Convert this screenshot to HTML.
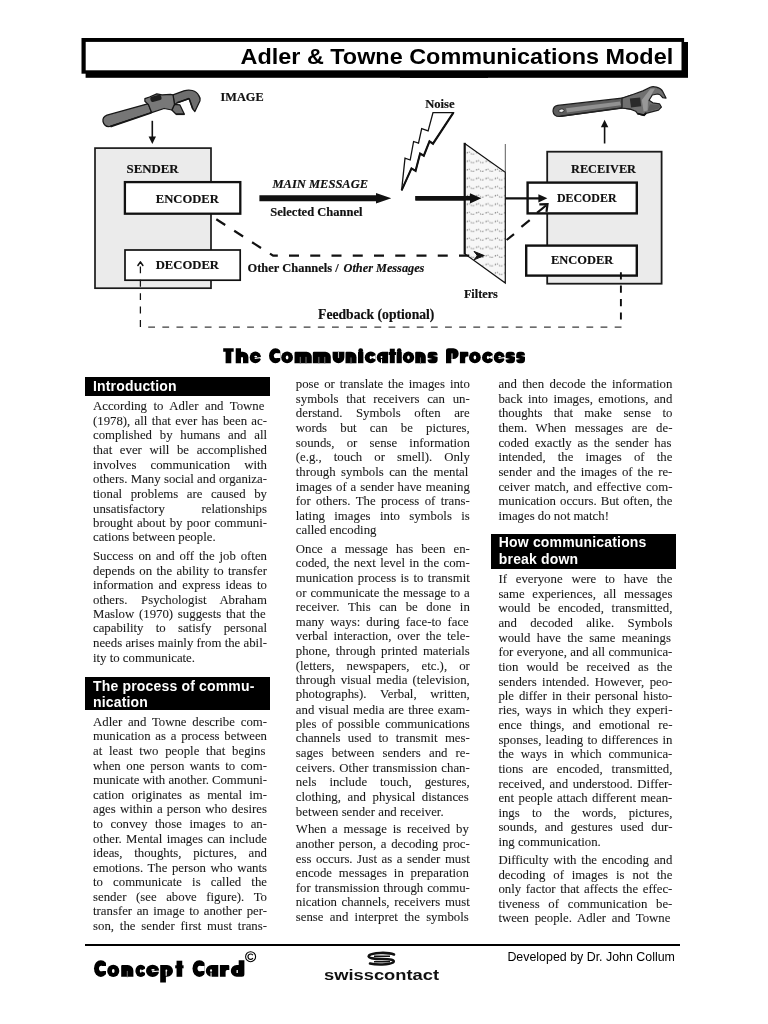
<!DOCTYPE html>
<html><head><meta charset="utf-8">
<style>
html,body{margin:0;padding:0;background:#fff;}
body{width:768px;height:1024px;position:relative;overflow:hidden;will-change:transform;font-family:"Liberation Serif",serif;color:#1a1a1a;}
.abs{position:absolute;}
#titlebox{left:81.6px;top:38px;width:595.7px;height:28.2px;border-style:solid;border-color:#000;border-width:4px 2.8px 3.8px 4.2px;background:#fff;box-shadow:4px 4px 0 0 #000;}
#title{left:200px;top:44px;width:473.2px;text-align:right;font:bold 22px/25px "Liberation Sans",sans-serif;color:#000;white-space:nowrap;transform-origin:100% 0;transform:scaleX(1.064);}
svg text{font-family:"Liberation Serif",serif;font-weight:bold;fill:#111;stroke:#111;stroke-width:0.18px;}
.bar{background:#000;color:#fff;letter-spacing:0.17px;font:bold 14px/16px "Liberation Sans",sans-serif;white-space:nowrap;}
.bar span{position:absolute;left:8px;}
.ln{position:absolute;height:15px;font:12.8px/15px "Liberation Serif",serif;color:#1a1a1a;-webkit-text-stroke:0.08px #1a1a1a;white-space:nowrap;text-align:justify;text-align-last:justify;}
.ln.l{text-align:left;text-align-last:left;}
#rule{left:85px;top:944px;width:595.4px;height:2px;background:#000;}
#dev{left:507.4px;top:950px;font:12.42px/15px "Liberation Sans",sans-serif;color:#000;white-space:nowrap;}
</style></head><body>
<svg class="abs" style="left:0;top:30px" width="768" height="52" viewBox="0 30 768 52"><rect x="85.6" y="42" width="402.4" height="35.8" fill="#000"/><rect x="400" y="42" width="288" height="35.8" fill="#000"/><rect x="81.5" y="38" width="602.6" height="35.7" fill="#000"/><rect x="85.7" y="41.9" width="595.8" height="28.4" fill="#fff"/></svg>
<div id="title" class="abs">Adler &amp; Towne Communications Model</div>
<svg class="abs" style="left:0;top:0" width="768" height="340" viewBox="0 0 768 340">
<defs>
<pattern id="wav" x="466" y="150" width="9.4" height="8.6" patternUnits="userSpaceOnUse">
<path d="M0.8 3.2 q1.9 -2.6 3.8 0 q1.9 2.2 3.8 0" fill="none" stroke="#7a7a7a" stroke-width="0.95" stroke-dasharray="1.3 1.1"/>
</pattern>
</defs>
<!-- sender / receiver boxes -->
<rect x="95" y="148.1" width="116" height="140.1" fill="#ebebeb" stroke="#1a1a1a" stroke-width="1.7"/>
<rect x="124.9" y="182.1" width="115.4" height="31.6" fill="#fff" stroke="#111" stroke-width="2.3"/>
<rect x="125" y="250" width="115.2" height="30.2" fill="#fff" stroke="#111" stroke-width="1.7"/>
<rect x="547.2" y="151.7" width="114.4" height="132" fill="#ebebeb" stroke="#1a1a1a" stroke-width="1.8"/>
<rect x="527.6" y="182.6" width="109.2" height="30.8" fill="#fff" stroke="#111" stroke-width="2.4"/>
<rect x="526.2" y="245.6" width="110.6" height="30" fill="#fff" stroke="#111" stroke-width="2.4"/>
<!-- labels -->
<text x="126.6" y="173" font-size="13.3" lengthAdjust="spacingAndGlyphs" textLength="52">SENDER</text>
<text x="155.8" y="202.5" font-size="13.3" lengthAdjust="spacingAndGlyphs" textLength="63.1">ENCODER</text>
<text x="155.7" y="268.6" font-size="13.3" lengthAdjust="spacingAndGlyphs" textLength="63.3">DECODER</text>
<text x="220.6" y="100.8" font-size="13.3" lengthAdjust="spacingAndGlyphs" textLength="43">IMAGE</text>
<text x="425.2" y="107.5" font-size="13.3" lengthAdjust="spacingAndGlyphs" textLength="29.4">Noise</text>
<text x="272.5" y="188" font-size="13.3" font-style="italic" lengthAdjust="spacingAndGlyphs" textLength="95.6">MAIN MESSAGE</text>
<text x="270.3" y="215.6" font-size="13.3" lengthAdjust="spacingAndGlyphs" textLength="92.2">Selected Channel</text>
<text x="247.5" y="271.9" font-size="13.3" lengthAdjust="spacingAndGlyphs" textLength="91.2">Other Channels /</text>
<text x="343.6" y="271.9" font-size="13.3" font-style="italic" lengthAdjust="spacingAndGlyphs" textLength="80.8">Other Messages</text>
<text x="463.9" y="298" font-size="13.3" lengthAdjust="spacingAndGlyphs" textLength="34">Filters</text>
<text x="318.1" y="319" font-size="14" lengthAdjust="spacingAndGlyphs" textLength="116.3">Feedback (optional)</text>
<text x="571" y="172.9" font-size="13.3" lengthAdjust="spacingAndGlyphs" textLength="65">RECEIVER</text>
<text x="557" y="202" font-size="13.3" lengthAdjust="spacingAndGlyphs" textLength="59.5">DECODER</text>
<text x="550.9" y="264.3" font-size="13.3" lengthAdjust="spacingAndGlyphs" textLength="62.3">ENCODER</text>
<!-- wrench arrows -->
<path d="M152.3 120.8V138" stroke="#111" stroke-width="1.6" fill="none"/>
<path d="M148.6 136.5h7.4l-3.7 7.5z" fill="#111"/>
<path d="M604.6 143.5V126" stroke="#111" stroke-width="1.6" fill="none"/>
<path d="M600.9 127.3h7.4l-3.7 -7.5z" fill="#111"/>
<!-- main arrows -->
<path d="M259.4 195.2H376V193L391.3 198.2L376 203.4V201.2H259.4z" fill="#111"/>
<path d="M415.4 196H470V193.2L481.3 198.3L470 203.4V200.6H415.4z" fill="#111"/>
<!-- filter -->
<path d="M464.7 143.6L505.3 172.2V283.1L464.7 253.8z" fill="#f7f7f7"/>
<path d="M464.7 143.6L505.3 172.2V283.1L464.7 253.8z" fill="url(#wav)"/>
<path d="M464.7 143.6L505.3 172.2V283.1L464.7 253.8" fill="none" stroke="#111" stroke-width="1.2"/>
<path d="M464.7 142.8V254.4" stroke="#111" stroke-width="2.2" fill="none"/>
<path d="M505.3 144V172.2" stroke="#333" stroke-width="0.8" fill="none"/>
<path d="M415.4 196H470V193.2L481.3 198.3L470 203.4V200.6H415.4z" fill="#111"/>
<!-- thin arrow to decoder -->
<path d="M505.3 198.3H540" stroke="#111" stroke-width="2.2" fill="none"/>
<path d="M538.4 194.2L547.4 198.3L538.4 202.4z" fill="#111"/>
<!-- lightning -->
<path d="M433 112.6L453.4 112.6L433 143.7L429.5 141.3L423.8 155.7L420.1 153.6L415.6 170.8L411.5 168.4L401.6 190.4L405 158.2L410.2 160L413.6 141.5L418.5 143.2L421.7 128.7L428.1 130.8z" fill="#fff" stroke="#111" stroke-width="1.3" stroke-linejoin="miter"/>
<path d="M453.4 112.6L433 143.7L429.5 141.3L423.8 155.7L420.1 153.6L415.6 170.8L411.5 168.4L401.6 190.4" stroke="#111" stroke-width="2.1" fill="none" stroke-linejoin="miter"/>
<!-- thick dashed other-channel line -->
<path d="M216.3 219.3L273.1 255.7H277.8" stroke="#111" stroke-width="2.2" fill="none" stroke-dasharray="10.6 10.65" stroke-linejoin="miter"/>
<path d="M289 255.7H469" stroke="#111" stroke-width="2.2" fill="none" stroke-dasharray="10 11.25"/>
<path d="M474 251.4L484.3 255.6L474 259.8L477.4 255.6z" fill="#111" stroke="#111" stroke-width="1" stroke-linejoin="round"/>
<!-- dashed arrow filter->decoder -->
<path d="M506.6 240L514 234.2M521.4 226.9L529.7 220.2M537 212.8L546 205.5" stroke="#111" stroke-width="2.2" fill="none"/>
<path d="M539.3 204.4L547.5 204.1L546.5 211.8" stroke="#111" stroke-width="2.2" fill="none"/>
<!-- feedback dashed -->
<path d="M620.9 272.2V320" stroke="#0c0c0c" stroke-width="1.9" fill="none" stroke-dasharray="7.2 6.2"/>
<path d="M148.2 327H621.7" stroke="#3c3c3c" stroke-width="1.25" fill="none" stroke-dasharray="6.8 7.336"/>
<path d="M140.4 326.9V265.6" stroke="#111" stroke-width="1.25" fill="none" stroke-dasharray="6.9 6.5"/>
<path d="M137.9 265.5L140.4 261.8L142.9 265.5" stroke="#111" stroke-width="1.5" fill="none" stroke-linecap="round" stroke-linejoin="round"/>
</svg>
<svg class="abs" style="left:0;top:78px" width="768" height="60" viewBox="0 78 768 60">
<g stroke="#161616" stroke-width="1.25" stroke-linejoin="round">
<path d="M148.5 103.6L107 115.2Q102.3 117 103 121.5Q104.5 127.3 110 126.4L151.5 112.5z" fill="#767676"/>
<path d="M110.5 126.6L151.5 112.8" stroke-width="1.7" fill="none"/>
<path d="M173 94.9L183.9 90.8Q188 89.8 192.3 90.5Q197 91.5 198.7 95.5Q200.6 98 200 100.7L194.9 111.6L192.8 109L189.1 98.6L177.1 102.8L174.5 104.8z" fill="#6e6e6e"/>
<path d="M174.5 104.3L179.8 104.8L184.4 114.2L176.1 114.2L171.9 110z" fill="#707070"/>
<path d="M176.1 114.3L184.4 114.3" stroke-width="1.6"/>
<path d="M144.9 98.6L149.5 97L156.8 93.9L162 94.9L170.4 94.4L173 94.9L174.5 104.3L171.9 110L164.1 108.5L151.6 112.6L148.5 104.8L144.9 101.2z" fill="#787878"/>
<path d="M189.1 98.6L177.1 102.8" stroke-width="1.6"/>
<path d="M192.8 109L189.1 98.6" stroke-width="1.5"/>
</g>
<rect x="150.3" y="95.7" width="11.2" height="5.3" rx="1.9" fill="#1e1e1e" transform="rotate(-15 156 98.3)"/>
<!-- right wrench -->
<g stroke="#1c1c1c" stroke-width="1.2" stroke-linejoin="round">
<path d="M557.7 105.4L624 97.9L631.4 95L630.4 109.1L622 108L560.2 116.4Q553.5 116.8 553 111.2Q553 106.2 557.7 105.4z" fill="#5e5e5e"/>
<path d="M622 98.1L631.4 95L642.9 90.9L650.2 87.2Q653 86.2 656.4 87.2Q661 88.5 662.7 91.4L666 98.1L662.7 97.6Q660 94 657.5 94L652.3 95L649.1 100.2L652.8 102.8L659.5 103.9L661.4 107L658.5 110.1L646 113.3L643.9 115.3L637.7 113.8L635.6 111.2L630.4 109.1L622 108z" fill="#707070"/>
</g>
<path d="M566 108.3L620 101.6L621 105.2L567 112.5z" fill="#919191"/>
<path d="M560.5 116.2L622 107.9" stroke="#222" stroke-width="1.5" fill="none"/>
<ellipse cx="561.4" cy="110.7" rx="2.7" ry="1.7" fill="#efefef" stroke="#222" stroke-width="0.8" transform="rotate(-8 561.4 110.7)"/>
<path d="M643.6 111.5L641.8 100L650.5 88.7L655 88.5L648 100.5L647.6 110.5z" fill="#989898"/>
<path d="M629.8 98.6L640.2 97.4L641.2 106.2L631 107.4z" fill="#2a2a2a"/>
<path d="M650 104.2L659.5 105L660 107L657.5 109L647.5 111.5z" fill="#5a5a5a"/>
<path d="M637.5 113.5L644 115.2L646.2 113" stroke="#111" stroke-width="1.8" fill="none"/>
</svg>
<svg class="abs" style="left:0;top:336px" width="768" height="40" viewBox="0 336 768 40">
<path d="M223.2 348.3H233.7V351.7H231.3V363.2H225.6V351.7H223.2z" fill="#000"/>
<path d="M235.7 363.2V348.3H241V351.7H242.88A5.52 5.52 0 0 1 248.4 357.22V363.2z" fill="#000"/>
<path d="M242 357.22L242 363.7" stroke="#fff" stroke-width="2" fill="none"/>
<ellipse cx="255.35" cy="357.45" rx="5.65" ry="5.9" fill="#000"/>
<path d="M254.75 358.35L261.5 357.55" stroke="#fff" stroke-width="1.1" fill="none"/>
<ellipse cx="255.75" cy="356.45" rx="1.47" ry="0.81" fill="#fff"/>
<path d="M261.5 357.75L259.8 357.95L261.5 360.05z" fill="#fff"/>
<clipPath id="C2690"><rect x="268" y="346.3" width="12.3" height="18.9"/></clipPath>
<g clip-path="url(#C2690)"><ellipse cx="275.45" cy="355.75" rx="6.45" ry="7.6" fill="#000"/><ellipse cx="276.05" cy="355.75" rx="2.26" ry="2.53" fill="#fff"/><path d="M275.45 353.37H282.3V357.99H275.45z" fill="#fff"/></g>
<ellipse cx="287.1" cy="357.45" rx="5.9" ry="5.9" fill="#000"/>
<ellipse cx="287.1" cy="357.45" rx="1.3" ry="1.96" fill="#fff"/>
<path d="M294.5 363.2V352.9Q294.5 351.7 295.7 351.7H306.61A5.19 5.19 0 0 1 311.8 356.89V363.2z" fill="#000"/>
<path d="M300.3 356.88L300.3 363.7" stroke="#8a8a8a" stroke-width="0.9" fill="none"/>
<path d="M306 356.88L306 363.7" stroke="#8a8a8a" stroke-width="0.9" fill="none"/>
<path d="M312.8 363.2V352.9Q312.8 351.7 314 351.7H325.4A5.4 5.4 0 0 1 330.8 357.1V363.2z" fill="#000"/>
<path d="M318.83 356.88L318.83 363.7" stroke="#8a8a8a" stroke-width="0.9" fill="none"/>
<path d="M324.77 356.88L324.77 363.7" stroke="#8a8a8a" stroke-width="0.9" fill="none"/>
<path d="M332.6 351.7V357.3A5.9 5.9 0 0 0 344.4 357.3V351.7z" fill="#000"/>
<path d="M338.5 351.2L338.5 358.02" stroke="#bbb" stroke-width="1.1" fill="none"/>
<path d="M345.5 363.2V352.7Q345.5 351.7 346.5 351.7H351A5.5 5.5 0 0 1 356.5 357.2V363.2z" fill="#000"/>
<path d="M351 357.45L351 363.7" stroke="#777" stroke-width="1" fill="none"/>
<path d="M358 351.7H363.4V363.2H358z" fill="#000"/>
<ellipse cx="360.7" cy="350.57" rx="2.38" ry="2.38" fill="#000"/>
<clipPath id="c3647"><rect x="363.7" y="349.7" width="11.9" height="15.5"/></clipPath>
<g clip-path="url(#c3647)"><ellipse cx="370.75" cy="357.45" rx="6.05" ry="5.9" fill="#000"/><path d="M370.45 357.45L377.6 354.34L377.6 359.98z" fill="#fff"/><ellipse cx="370.75" cy="357.45" rx="1.09" ry="1.72" fill="#fff"/></g>
<path d="M388.1 363.2V351.7H382.45A5.75 5.75 0 0 0 382.45 363.2z" fill="#000"/>
<path d="M381.49 363.7L381.49 359.06" stroke="#fff" stroke-width="1" fill="none"/>
<ellipse cx="381.49" cy="357.05" rx="0.91" ry="1.15" fill="#fff"/>
<path d="M389.8 348.7H394.8V363.2H389.8z" fill="#000"/>
<path d="M388.6 352H396V355H388.6z" fill="#000"/>
<path d="M396.6 351.7H401.8V363.2H396.6z" fill="#000"/>
<ellipse cx="399.2" cy="350.48" rx="2.29" ry="2.29" fill="#000"/>
<ellipse cx="408.45" cy="357.45" rx="5.75" ry="5.9" fill="#000"/>
<ellipse cx="408.45" cy="357.45" rx="1.26" ry="1.96" fill="#fff"/>
<path d="M415.2 363.2V352.7Q415.2 351.7 416.2 351.7H420.5A5.3 5.3 0 0 1 425.8 357V363.2z" fill="#000"/>
<path d="M420.5 357.45L420.5 363.7" stroke="#777" stroke-width="1" fill="none"/>
<rect x="427.6" y="351.7" width="10" height="11.5" rx="3.45" fill="#000"/>
<path d="M438.1 355.15L432.8 355.84L438.1 357.1z" fill="#fff"/>
<path d="M427.1 359.75L432.4 359.06L427.1 357.8z" fill="#fff"/>
<path d="M438.1 351.2H436.1L438.1 353.5z" fill="#fff"/>
<path d="M446 363.2V350.3Q446 348.3 448.5 348.3H453.34A5.36 5.36 0 0 1 453.34 359.03H451.3V363.2z" fill="#000"/>
<path d="M452 359.53L452 353.4" stroke="#fff" stroke-width="1" fill="none"/>
<path d="M459.9 363.2V351.7H467.4Q468.4 351.7 468.4 352.7V356.53H466.8Q465.2 356.53 465.2 358.33V363.2z" fill="#000"/>
<ellipse cx="474.9" cy="357.45" rx="5.9" ry="5.9" fill="#000"/>
<ellipse cx="474.9" cy="357.45" rx="1.3" ry="1.96" fill="#fff"/>
<clipPath id="c4820"><rect x="481" y="349.7" width="11.7" height="15.5"/></clipPath>
<g clip-path="url(#c4820)"><ellipse cx="487.95" cy="357.45" rx="5.95" ry="5.9" fill="#000"/><path d="M487.65 357.45L494.7 354.34L494.7 359.98z" fill="#fff"/><ellipse cx="487.95" cy="357.45" rx="1.07" ry="1.72" fill="#fff"/></g>
<ellipse cx="499.2" cy="357.45" rx="5.5" ry="5.9" fill="#000"/>
<path d="M498.6 358.35L505.2 357.55" stroke="#fff" stroke-width="1.1" fill="none"/>
<ellipse cx="499.6" cy="356.45" rx="1.43" ry="0.81" fill="#fff"/>
<path d="M505.2 357.75L503.5 357.95L505.2 360.05z" fill="#fff"/>
<rect x="505.6" y="351.7" width="9.4" height="11.5" rx="3.45" fill="#000"/>
<path d="M515.5 355.15L510.49 355.84L515.5 357.1z" fill="#fff"/>
<path d="M505.1 359.75L510.11 359.06L505.1 357.8z" fill="#fff"/>
<path d="M515.5 351.2H513.5L515.5 353.5z" fill="#fff"/>
<rect x="516.2" y="351.7" width="8.8" height="11.5" rx="3.45" fill="#000"/>
<path d="M525.5 355.15L520.78 355.84L525.5 357.1z" fill="#fff"/>
<path d="M515.7 359.75L520.42 359.06L515.7 357.8z" fill="#fff"/>
<path d="M525.5 351.2H523.5L525.5 353.5z" fill="#fff"/>
</svg>

<div class="abs bar" style="left:85px;top:377px;width:185px;height:18.8px"><span style="top:1px">Introduction</span></div>
<div class="abs bar" style="left:85px;top:676.7px;width:185px;height:33.8px"><span style="top:1.5px">The process of commu-</span><span style="top:17.1px">nication</span></div>
<div class="abs bar" style="left:491px;top:534px;width:185.3px;height:34.5px"><span style="top:0px;left:7.8px">How communications</span><span style="top:17.1px;left:7.8px">break down</span></div>
<div class="ln" id="t0_0_0" style="left:93.0px;top:399.00px;width:171.4px;">According to Adler and Towne</div>
<div class="ln" id="t0_0_1" style="left:93.0px;top:414.00px;width:174.0px;">(1978), all that ever has been ac-</div>
<div class="ln" id="t0_0_2" style="left:93.0px;top:428.00px;width:174.0px;">complished by humans and all</div>
<div class="ln" id="t0_0_3" style="left:93.0px;top:443.00px;width:174.0px;">that ever will be accomplished</div>
<div class="ln" id="t0_0_4" style="left:93.0px;top:458.00px;width:174.0px;">involves communication with</div>
<div class="ln" id="t0_0_5" style="left:93.0px;top:472.00px;width:174.0px;">others. Many social and organiza-</div>
<div class="ln" id="t0_0_6" style="left:93.0px;top:487.00px;width:174.0px;">tional problems are caused by</div>
<div class="ln" id="t0_0_7" style="left:93.0px;top:502.00px;width:174.0px;">unsatisfactory relationships</div>
<div class="ln" id="t0_0_8" style="left:93.0px;top:516.00px;width:174.0px;">brought about by poor communi-</div>
<div class="ln l" id="t0_0_9" style="left:93.0px;top:530.00px;width:174.0px;">cations between people.</div>
<div class="ln" id="t0_1_0" style="left:93.0px;top:549.00px;width:174.0px;">Success on and off the job often</div>
<div class="ln" id="t0_1_1" style="left:93.0px;top:564.00px;width:174.0px;">depends on the ability to transfer</div>
<div class="ln" id="t0_1_2" style="left:93.0px;top:578.00px;width:174.0px;">information and express ideas to</div>
<div class="ln" id="t0_1_3" style="left:93.0px;top:593.00px;width:174.0px;">others. Psychologist Abraham</div>
<div class="ln" id="t0_1_4" style="left:93.0px;top:607.00px;width:172.6px;">Maslow (1970) suggests that the</div>
<div class="ln" id="t0_1_5" style="left:93.0px;top:621.00px;width:174.0px;">capability to satisfy personal</div>
<div class="ln" id="t0_1_6" style="left:93.0px;top:636.00px;width:174.0px;">needs arises mainly from the abil-</div>
<div class="ln l" id="t0_1_7" style="left:93.0px;top:651.00px;width:174.0px;">ity to communicate.</div>
<div class="ln" id="t0_2_0" style="left:93.0px;top:715.00px;width:174.0px;">Adler and Towne describe com-</div>
<div class="ln" id="t0_2_1" style="left:93.0px;top:729.00px;width:174.0px;">munication as a process between</div>
<div class="ln" id="t0_2_2" style="left:93.0px;top:744.00px;width:172.5px;">at least two people that begins</div>
<div class="ln" id="t0_2_3" style="left:93.0px;top:759.00px;width:174.0px;">when one person wants to com-</div>
<div class="ln" id="t0_2_4" style="left:93.0px;top:773.00px;width:174.0px;letter-spacing:-0.065px;">municate with another. Communi-</div>
<div class="ln" id="t0_2_5" style="left:93.0px;top:788.00px;width:174.0px;">cation originates as mental im-</div>
<div class="ln" id="t0_2_6" style="left:93.0px;top:802.00px;width:174.0px;">ages within a person who desires</div>
<div class="ln" id="t0_2_7" style="left:93.0px;top:817.00px;width:174.0px;">to convey those images to an-</div>
<div class="ln" id="t0_2_8" style="left:93.0px;top:832.00px;width:174.0px;">other. Mental images can include</div>
<div class="ln" id="t0_2_9" style="left:93.0px;top:846.00px;width:174.0px;">ideas, thoughts, pictures, and</div>
<div class="ln" id="t0_2_10" style="left:93.0px;top:861.00px;width:174.0px;">emotions. The person who wants</div>
<div class="ln" id="t0_2_11" style="left:93.0px;top:875.00px;width:174.0px;">to communicate is called the</div>
<div class="ln" id="t0_2_12" style="left:93.0px;top:890.00px;width:174.0px;">sender (see above figure). To</div>
<div class="ln" id="t0_2_13" style="left:93.0px;top:904.00px;width:174.0px;">transfer an image to another per-</div>
<div class="ln" id="t0_2_14" style="left:93.0px;top:919.00px;width:174.0px;">son, the sender first must trans-</div>
<div class="ln" id="t1_0_0" style="left:295.8px;top:377.00px;width:174.0px;">pose or translate the images into</div>
<div class="ln" id="t1_0_1" style="left:295.8px;top:392.00px;width:174.0px;">symbols that receivers can un-</div>
<div class="ln" id="t1_0_2" style="left:295.8px;top:406.00px;width:174.0px;">derstand. Symbols often are</div>
<div class="ln" id="t1_0_3" style="left:295.8px;top:421.00px;width:174.0px;">words but can be pictures,</div>
<div class="ln" id="t1_0_4" style="left:295.8px;top:436.00px;width:174.0px;">sounds, or sense information</div>
<div class="ln" id="t1_0_5" style="left:295.8px;top:450.00px;width:174.0px;">(e.g., touch or smell). Only</div>
<div class="ln" id="t1_0_6" style="left:295.8px;top:465.00px;width:172.5px;">through symbols can the mental</div>
<div class="ln" id="t1_0_7" style="left:295.8px;top:480.00px;width:174.0px;">images of a sender have meaning</div>
<div class="ln" id="t1_0_8" style="left:295.8px;top:494.00px;width:174.0px;">for others. The process of trans-</div>
<div class="ln" id="t1_0_9" style="left:295.8px;top:509.00px;width:174.0px;">lating images into symbols is</div>
<div class="ln l" id="t1_0_10" style="left:295.8px;top:523.00px;width:174.0px;">called encoding</div>
<div class="ln" id="t1_1_0" style="left:295.8px;top:542.00px;width:174.0px;">Once a message has been en-</div>
<div class="ln" id="t1_1_1" style="left:295.8px;top:556.00px;width:174.0px;">coded, the next level in the com-</div>
<div class="ln" id="t1_1_2" style="left:295.8px;top:571.00px;width:174.0px;">munication process is to transmit</div>
<div class="ln" id="t1_1_3" style="left:295.8px;top:586.00px;width:174.0px;">or communicate the message to a</div>
<div class="ln" id="t1_1_4" style="left:295.8px;top:600.00px;width:174.0px;">receiver. This can be done in</div>
<div class="ln" id="t1_1_5" style="left:295.8px;top:615.00px;width:173.0px;">many ways: during face-to face</div>
<div class="ln" id="t1_1_6" style="left:295.8px;top:629.00px;width:174.0px;">verbal interaction, over the tele-</div>
<div class="ln" id="t1_1_7" style="left:295.8px;top:644.00px;width:174.0px;">phone, through printed materials</div>
<div class="ln" id="t1_1_8" style="left:295.8px;top:659.00px;width:174.0px;">(letters, newspapers, etc.), or</div>
<div class="ln" id="t1_1_9" style="left:295.8px;top:673.00px;width:174.0px;">through visual media (television,</div>
<div class="ln" id="t1_1_10" style="left:295.8px;top:687.00px;width:174.0px;">photographs). Verbal, written,</div>
<div class="ln" id="t1_1_11" style="left:295.8px;top:703.00px;width:174.0px;">and visual media are three exam-</div>
<div class="ln" id="t1_1_12" style="left:295.8px;top:717.00px;width:174.0px;">ples of possible communications</div>
<div class="ln" id="t1_1_13" style="left:295.8px;top:731.00px;width:174.0px;">channels used to transmit mes-</div>
<div class="ln" id="t1_1_14" style="left:295.8px;top:746.00px;width:174.0px;">sages between senders and re-</div>
<div class="ln" id="t1_1_15" style="left:295.8px;top:761.00px;width:174.0px;">ceivers. Other transmission chan-</div>
<div class="ln" id="t1_1_16" style="left:295.8px;top:775.00px;width:174.0px;">nels include touch, gestures,</div>
<div class="ln" id="t1_1_17" style="left:295.8px;top:790.00px;width:173.0px;">clothing, and physical distances</div>
<div class="ln l" id="t1_1_18" style="left:295.8px;top:805.00px;width:174.0px;">between sender and receiver.</div>
<div class="ln" id="t1_2_0" style="left:295.8px;top:822.00px;width:173.0px;">When a message is received by</div>
<div class="ln" id="t1_2_1" style="left:295.8px;top:837.00px;width:174.0px;">another person, a decoding proc-</div>
<div class="ln" id="t1_2_2" style="left:295.8px;top:852.00px;width:174.0px;">ess occurs. Just as a sender must</div>
<div class="ln" id="t1_2_3" style="left:295.8px;top:866.00px;width:173.0px;">encode messages in preparation</div>
<div class="ln" id="t1_2_4" style="left:295.8px;top:881.00px;width:174.0px;">for transmission through commu-</div>
<div class="ln" id="t1_2_5" style="left:295.8px;top:895.00px;width:174.0px;">nication channels, receivers must</div>
<div class="ln" id="t1_2_6" style="left:295.8px;top:910.00px;width:173.0px;">sense and interpret the symbols</div>
<div class="ln" id="t2_0_0" style="left:498.4px;top:377.00px;width:174.0px;">and then decode the information</div>
<div class="ln" id="t2_0_1" style="left:498.4px;top:392.00px;width:174.0px;">back into images, emotions, and</div>
<div class="ln" id="t2_0_2" style="left:498.4px;top:406.00px;width:174.0px;">thoughts that make sense to</div>
<div class="ln" id="t2_0_3" style="left:498.4px;top:421.00px;width:174.0px;">them. When messages are de-</div>
<div class="ln" id="t2_0_4" style="left:498.4px;top:436.00px;width:173.0px;">coded exactly as the sender has</div>
<div class="ln" id="t2_0_5" style="left:498.4px;top:450.00px;width:174.0px;">intended, the images of the</div>
<div class="ln" id="t2_0_6" style="left:498.4px;top:465.00px;width:174.0px;">sender and the images of the re-</div>
<div class="ln" id="t2_0_7" style="left:498.4px;top:480.00px;width:174.0px;">ceiver match, and effective com-</div>
<div class="ln" id="t2_0_8" style="left:498.4px;top:494.00px;width:174.0px;">munication occurs. But often, the</div>
<div class="ln l" id="t2_0_9" style="left:498.4px;top:509.00px;width:174.0px;">images do not match!</div>
<div class="ln" id="t2_1_0" style="left:498.4px;top:572.00px;width:174.0px;">If everyone were to have the</div>
<div class="ln" id="t2_1_1" style="left:498.4px;top:587.00px;width:174.0px;">same experiences, all messages</div>
<div class="ln" id="t2_1_2" style="left:498.4px;top:601.00px;width:174.0px;">would be encoded, transmitted,</div>
<div class="ln" id="t2_1_3" style="left:498.4px;top:616.00px;width:174.0px;">and decoded alike. Symbols</div>
<div class="ln" id="t2_1_4" style="left:498.4px;top:631.00px;width:172.5px;">would have the same meanings</div>
<div class="ln" id="t2_1_5" style="left:498.4px;top:645.00px;width:174.0px;">for everyone, and all communica-</div>
<div class="ln" id="t2_1_6" style="left:498.4px;top:660.00px;width:174.0px;">tion would be received as the</div>
<div class="ln" id="t2_1_7" style="left:498.4px;top:675.00px;width:174.0px;">senders intended. However, peo-</div>
<div class="ln" id="t2_1_8" style="left:498.4px;top:689.00px;width:174.0px;">ple differ in their personal histo-</div>
<div class="ln" id="t2_1_9" style="left:498.4px;top:703.00px;width:174.0px;">ries, ways in which they experi-</div>
<div class="ln" id="t2_1_10" style="left:498.4px;top:718.00px;width:174.0px;">ence things, and emotional re-</div>
<div class="ln" id="t2_1_11" style="left:498.4px;top:733.00px;width:174.0px;">sponses, leading to differences in</div>
<div class="ln" id="t2_1_12" style="left:498.4px;top:747.00px;width:174.0px;">the ways in which communica-</div>
<div class="ln" id="t2_1_13" style="left:498.4px;top:762.00px;width:174.0px;">tions are encoded, transmitted,</div>
<div class="ln" id="t2_1_14" style="left:498.4px;top:777.00px;width:174.0px;">received, and understood. Differ-</div>
<div class="ln" id="t2_1_15" style="left:498.4px;top:791.00px;width:174.0px;">ent people attach different mean-</div>
<div class="ln" id="t2_1_16" style="left:498.4px;top:806.00px;width:174.0px;">ings to the words, pictures,</div>
<div class="ln" id="t2_1_17" style="left:498.4px;top:820.00px;width:174.0px;">sounds, and gestures used dur-</div>
<div class="ln l" id="t2_1_18" style="left:498.4px;top:835.00px;width:174.0px;">ing communication.</div>
<div class="ln" id="t2_2_0" style="left:498.4px;top:853.00px;width:174.0px;">Difficulty with the encoding and</div>
<div class="ln" id="t2_2_1" style="left:498.4px;top:868.00px;width:174.0px;">decoding of images is not the</div>
<div class="ln" id="t2_2_2" style="left:498.4px;top:882.00px;width:174.0px;">only factor that affects the effec-</div>
<div class="ln" id="t2_2_3" style="left:498.4px;top:897.00px;width:174.0px;">tiveness of communication be-</div>
<div class="ln" id="t2_2_4" style="left:498.4px;top:911.00px;width:172.0px;">tween people. Adler and Towne</div>
<div id="rule" class="abs"></div>
<div id="dev" class="abs">Developed by Dr. John Collum</div>
<svg class="abs" style="left:0;top:946px" width="300" height="44" viewBox="0 946 300 44">
<clipPath id="C940"><rect x="93" y="958.3" width="13" height="20.5"/></clipPath>
<g clip-path="url(#C940)"><ellipse cx="100.8" cy="968.55" rx="6.8" ry="8.4" fill="#000"/><ellipse cx="101.4" cy="968.55" rx="2.4" ry="2.81" fill="#fff"/><path d="M100.8 965.91H108V971.02H100.8z" fill="#fff"/></g>
<ellipse cx="113.25" cy="970.9" rx="6.05" ry="6.05" fill="#000"/>
<ellipse cx="113.25" cy="970.9" rx="1.33" ry="2.01" fill="#fff"/>
<path d="M121.2 976.8V966Q121.2 965 122.2 965H127.74A5.66 5.66 0 0 1 133.4 970.66V976.8z" fill="#000"/>
<path d="M127.3 970.9L127.3 977.3" stroke="#777" stroke-width="1" fill="none"/>
<clipPath id="c1354"><rect x="134.4" y="963" width="10.6" height="15.8"/></clipPath>
<g clip-path="url(#c1354)"><ellipse cx="140.8" cy="970.9" rx="5.4" ry="6.05" fill="#000"/><path d="M140.53 970.9L147 967.71L147 973.5z" fill="#fff"/><ellipse cx="140.8" cy="970.9" rx="0.96" ry="1.77" fill="#fff"/></g>
<ellipse cx="152.6" cy="970.9" rx="6.6" ry="6.05" fill="#000"/>
<path d="M152 971.8L159.7 971" stroke="#fff" stroke-width="1.1" fill="none"/>
<ellipse cx="153" cy="969.9" rx="1.72" ry="0.83" fill="#fff"/>
<path d="M159.7 971.2L158 971.4L159.7 973.5z" fill="#fff"/>
<path d="M160.2 982.46V965H167.1A5.9 5.9 0 0 1 167.1 976.8H165.9V982.46z" fill="#000"/>
<path d="M166.2 975.8L166.2 970.9" stroke="#fff" stroke-width="1" fill="none"/>
<ellipse cx="166.4" cy="970.6" rx="0.9" ry="1.06" fill="#fff"/>
<path d="M176.55 960.7H182.25V976.8H176.55z" fill="#000"/>
<path d="M175.2 965.3H183.6V968.3H175.2z" fill="#000"/>
<clipPath id="C1925"><rect x="191.5" y="958.3" width="13.1" height="20.5"/></clipPath>
<g clip-path="url(#C1925)"><ellipse cx="199.35" cy="968.55" rx="6.85" ry="8.4" fill="#000"/><ellipse cx="199.95" cy="968.55" rx="2.42" ry="2.81" fill="#fff"/><path d="M199.35 965.91H206.6V971.02H199.35z" fill="#fff"/></g>
<path d="M218.3 976.8V965H211.7A5.9 5.9 0 0 0 211.7 976.8z" fill="#000"/>
<path d="M211.05 977.3L211.05 972.55" stroke="#fff" stroke-width="1" fill="none"/>
<ellipse cx="211.05" cy="970.5" rx="1" ry="1.18" fill="#fff"/>
<path d="M219.9 976.8V965H228.3Q229.3 965 229.3 966V969.96H227.2Q225.6 969.96 225.6 971.76V976.8z" fill="#000"/>
<path d="M244.4 974.3V960.3H238.7V965H236.7A5.9 5.9 0 0 0 236.7 976.8H241.9A2.5 2.5 0 0 0 244.4 974.3z" fill="#000"/>
<path d="M237.19 973.1L237.19 970.1" stroke="#fff" stroke-width="1.3" fill="none"/>
<circle cx="250.6" cy="956.7" r="5" fill="none" stroke="#000" stroke-width="1.1"/><path d="M252.9 955.2A2.7 2.7 0 1 0 252.9 958.2" fill="none" stroke="#000" stroke-width="1.2"/>
</svg>
<div class="abs" id="sw" style="left:324.2px;top:964.6px;font:bold 14.6px/20px 'Liberation Sans',sans-serif;color:#111;white-space:nowrap;transform-origin:0 0;transform:scaleX(1.255);">swisscontact</div>
<svg class="abs" style="left:365.5px;top:950.6px" width="32" height="16" viewBox="0 0 32 16"><path d="M28 3.5C22 1 6 1.5 3 4.5C1 7 8 8 16 8C24 8 30 9 27 11.5C23 14 10 14 4 12.5" fill="none" stroke="#111" stroke-width="2.6" stroke-linecap="round"/><path d="M8 5.2H24M8 10.8H24" stroke="#111" stroke-width="1.6"/></svg>
</body></html>
